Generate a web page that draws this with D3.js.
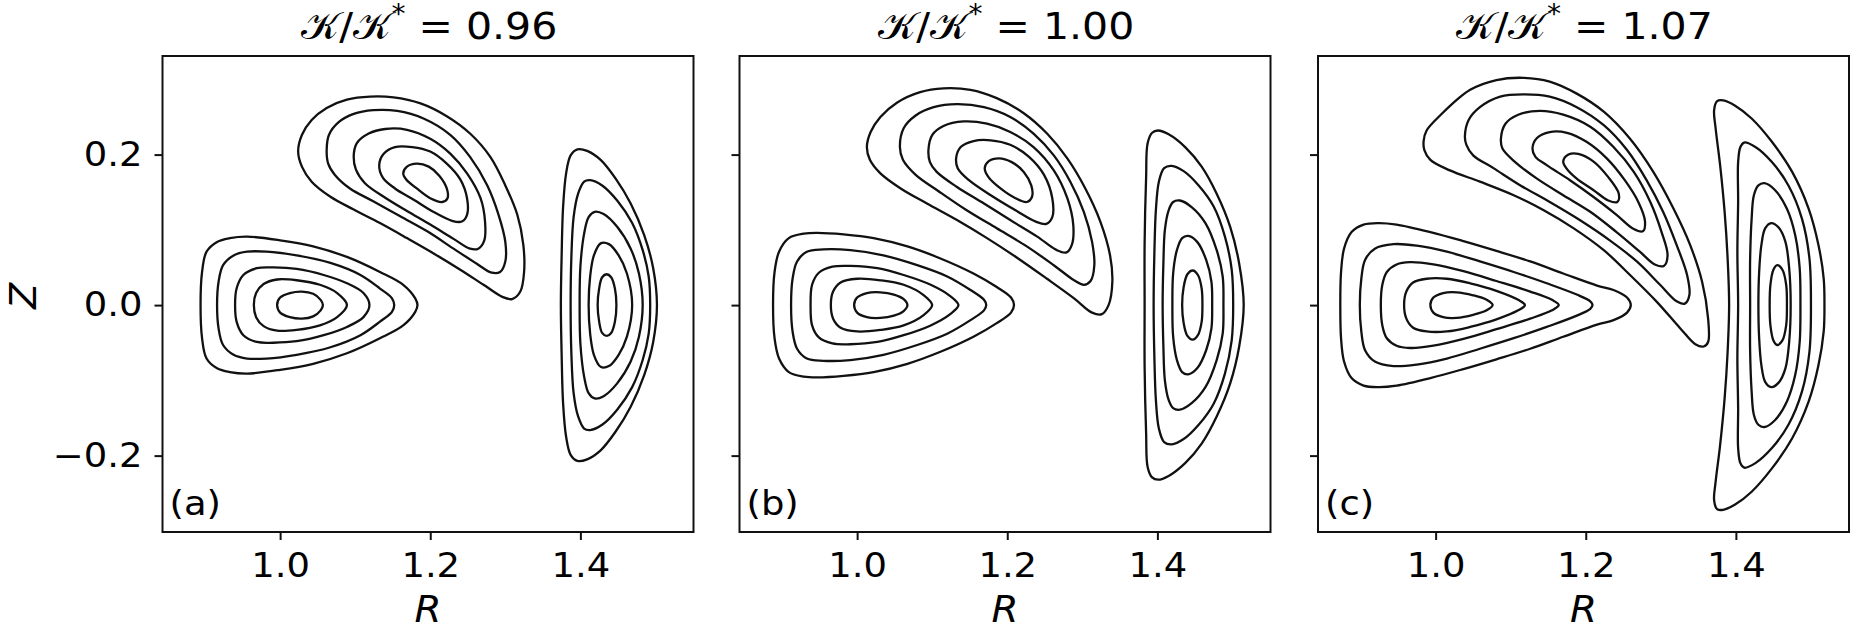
<!DOCTYPE html>
<html>
<head>
<meta charset="utf-8">
<script src="https://cdn.jsdelivr.net/npm/d3@7"></script>
<style>
  body { margin: 0; background: #fff; }
  text { font-family: "DejaVu Sans", sans-serif; fill: #000; }
</style>
</head>
<body>
<svg id="chart"></svg>
<script>
// ---- values ----
var ratios = ["0.96", "1.00", "1.07"];
var tags = ["(a)", "(b)", "(c)"];
var xTicks = [1.0, 1.2, 1.4];
var yTicks = [-0.2, 0.0, 0.2];
var xDomain = [0.8433, 1.5507];
var yDomain = [-0.3015, 0.331];

// each island: 5 nested closed curves, points as [R, Z]
var aLeft = [
  [[.894,0],[.896,.044],[.902,.071],[.916,.084],[.933,.089],[.956,.091],[1.0,.086],[1.044,.078],[1.089,.064],[1.133,.044],[1.164,.027],[1.18,.009],[1.183,0],[1.18,-.009],[1.164,-.027],[1.133,-.044],[1.089,-.064],[1.044,-.078],[1.0,-.086],[.956,-.091],[.933,-.089],[.916,-.084],[.902,-.071],[.896,-.044]],
  [[.916,0],[.918,.031],[.924,.053],[.938,.066],[.956,.071],[.982,.071],[1.022,.066],[1.067,.056],[1.107,.040],[1.133,.022],[1.149,.009],[1.152,0],[1.149,-.009],[1.133,-.022],[1.107,-.040],[1.067,-.056],[1.022,-.066],[.982,-.071],[.956,-.071],[.938,-.066],[.924,-.053],[.918,-.031]],
  [[.940,0],[.942,.022],[.951,.040],[.969,.049],[.991,.050],[1.022,.048],[1.058,.040],[1.089,.029],[1.111,.016],[1.119,0],[1.111,-.016],[1.089,-.029],[1.058,-.040],[1.022,-.048],[.991,-.050],[.969,-.049],[.951,-.040],[.942,-.022]],
  [[.965,0],[.968,.016],[.978,.028],[.996,.034],[1.022,.033],[1.053,.027],[1.076,.016],[1.089,0],[1.076,-.016],[1.053,-.027],[1.022,-.033],[.996,-.034],[.978,-.028],[.968,-.016]],
  [[.996,0],[1.0,.010],[1.013,.016],[1.029,.018],[1.044,.015],[1.054,.007],[1.057,0],[1.054,-.007],[1.044,-.015],[1.029,-.018],[1.013,-.016],[1.0,-.010]]
];
var aMid = [
  [[1.024,.204],[1.029,.226],[1.042,.246],[1.062,.262],[1.089,.273],[1.12,.277],[1.151,.276],[1.187,.268],[1.222,.251],[1.253,.228],[1.28,.197],[1.3,.159],[1.316,.120],[1.324,.080],[1.325,.044],[1.32,.018],[1.309,.008],[1.296,.011],[1.271,.027],[1.24,.047],[1.204,.069],[1.169,.089],[1.133,.109],[1.098,.127],[1.067,.144],[1.042,.164],[1.029,.184]],
  [[1.062,.206],[1.065,.226],[1.078,.243],[1.098,.254],[1.124,.259],[1.156,.258],[1.191,.248],[1.227,.226],[1.253,.197],[1.276,.159],[1.291,.120],[1.3,.084],[1.3,.058],[1.293,.044],[1.282,.043],[1.262,.055],[1.231,.075],[1.196,.098],[1.16,.118],[1.124,.138],[1.093,.155],[1.073,.173],[1.064,.188]],
  [[1.098,.197],[1.102,.215],[1.118,.228],[1.14,.234],[1.169,.233],[1.2,.221],[1.227,.201],[1.249,.175],[1.267,.142],[1.273,.111],[1.272,.086],[1.264,.075],[1.253,.075],[1.231,.088],[1.2,.107],[1.169,.125],[1.138,.144],[1.113,.162],[1.101,.180]],
  [[1.132,.186],[1.138,.201],[1.153,.210],[1.176,.210],[1.2,.204],[1.222,.188],[1.24,.167],[1.249,.142],[1.249,.120],[1.242,.111],[1.229,.112],[1.204,.124],[1.178,.140],[1.153,.155],[1.137,.169]],
  [[1.164,.175],[1.169,.184],[1.182,.188],[1.198,.184],[1.212,.172],[1.222,.155],[1.223,.142],[1.216,.137],[1.2,.142],[1.182,.155],[1.168,.167]]
];
var aRight = [
  [[1.374,0],[1.375,.064],[1.377,.131],[1.381,.175],[1.387,.199],[1.396,.207],[1.409,.205],[1.427,.193],[1.447,.168],[1.467,.135],[1.485,.093],[1.497,.049],[1.502,0],[1.497,-.049],[1.485,-.093],[1.467,-.135],[1.447,-.168],[1.427,-.193],[1.409,-.205],[1.396,-.207],[1.387,-.199],[1.381,-.175],[1.377,-.131],[1.375,-.064]],
  [[1.387,0],[1.388,.064],[1.391,.117],[1.397,.148],[1.405,.164],[1.413,.166],[1.429,.159],[1.449,.139],[1.469,.109],[1.483,.073],[1.491,.038],[1.493,0],[1.491,-.038],[1.483,-.073],[1.469,-.109],[1.449,-.139],[1.429,-.159],[1.413,-.166],[1.405,-.164],[1.397,-.148],[1.391,-.117],[1.388,-.064]],
  [[1.399,0],[1.400,.051],[1.405,.095],[1.411,.117],[1.419,.124],[1.431,.121],[1.449,.104],[1.467,.075],[1.478,.042],[1.483,0],[1.478,-.042],[1.467,-.075],[1.449,-.104],[1.431,-.121],[1.419,-.124],[1.411,-.117],[1.405,-.095],[1.400,-.051]],
  [[1.411,0],[1.413,.038],[1.418,.066],[1.427,.082],[1.438,.081],[1.451,.066],[1.462,.042],[1.469,0],[1.462,-.042],[1.451,-.066],[1.438,-.081],[1.427,-.082],[1.418,-.066],[1.413,-.038]],
  [[1.423,0],[1.425,.022],[1.429,.037],[1.435,.041],[1.441,.037],[1.446,.022],[1.448,0],[1.446,-.022],[1.441,-.037],[1.435,-.041],[1.429,-.037],[1.425,-.022]]
];

var bLeft = [
  [[.888,0],[.890,.044],[.896,.071],[.909,.089],[.929,.095],[.947,.096],[.982,.094],[1.022,.089],[1.067,.078],[1.111,.062],[1.155,.042],[1.186,.024],[1.205,.010],[1.209,0],[1.205,-.010],[1.186,-.024],[1.155,-.042],[1.111,-.062],[1.067,-.078],[1.022,-.089],[.982,-.094],[.947,-.096],[.929,-.095],[.909,-.089],[.896,-.071],[.890,-.044]],
  [[.912,0],[.914,.035],[.920,.058],[.933,.071],[.955,.074],[.991,.073],[1.035,.066],[1.080,.053],[1.120,.038],[1.151,.020],[1.169,.007],[1.172,0],[1.169,-.007],[1.151,-.020],[1.120,-.038],[1.080,-.053],[1.035,-.066],[.991,-.073],[.955,-.074],[.933,-.071],[.920,-.058],[.914,-.035]],
  [[.938,0],[.940,.027],[.949,.043],[.967,.051],[.991,.052],[1.027,.049],[1.062,.040],[1.098,.027],[1.124,.012],[1.135,0],[1.124,-.012],[1.098,-.027],[1.062,-.040],[1.027,-.049],[.991,-.052],[.967,-.051],[.949,-.043],[.940,-.027]],
  [[.965,0],[.968,.018],[.978,.030],[1.0,.035],[1.031,.033],[1.062,.027],[1.089,.013],[1.1,0],[1.089,-.013],[1.062,-.027],[1.031,-.033],[1.0,-.035],[.978,-.030],[.968,-.018]],
  [[.996,0],[1.0,.010],[1.013,.016],[1.031,.017],[1.049,.014],[1.062,.008],[1.067,0],[1.062,-.008],[1.049,-.014],[1.031,-.017],[1.013,-.016],[1.0,-.010]]
];
var bMid = [
  [[1.013,.210],[1.018,.230],[1.031,.250],[1.053,.269],[1.084,.283],[1.115,.288],[1.151,.286],[1.186,.275],[1.222,.255],[1.253,.228],[1.280,.195],[1.304,.155],[1.324,.111],[1.337,.066],[1.340,.031],[1.335,0],[1.326,-.012],[1.313,-.010],[1.289,.009],[1.253,.035],[1.213,.063],[1.173,.089],[1.133,.113],[1.093,.135],[1.058,.155],[1.031,.175],[1.017,.193]],
  [[1.057,.210],[1.062,.235],[1.078,.252],[1.102,.263],[1.133,.267],[1.169,.263],[1.204,.250],[1.235,.228],[1.262,.199],[1.284,.164],[1.302,.124],[1.313,.084],[1.316,.053],[1.311,.032],[1.302,.027],[1.289,.033],[1.262,.053],[1.226,.078],[1.186,.102],[1.146,.126],[1.109,.151],[1.078,.173],[1.061,.193]],
  [[1.095,.206],[1.100,.226],[1.115,.238],[1.142,.244],[1.173,.241],[1.204,.230],[1.235,.210],[1.262,.179],[1.280,.142],[1.288,.106],[1.286,.080],[1.279,.070],[1.266,.073],[1.240,.091],[1.204,.113],[1.169,.135],[1.133,.157],[1.106,.177],[1.097,.190]],
  [[1.132,.196],[1.138,.210],[1.155,.218],[1.178,.219],[1.204,.213],[1.229,.197],[1.249,.173],[1.260,.142],[1.260,.117],[1.252,.108],[1.238,.111],[1.211,.126],[1.178,.146],[1.149,.166],[1.134,.182]],
  [[1.170,.182],[1.175,.191],[1.189,.195],[1.206,.190],[1.222,.177],[1.232,.159],[1.233,.144],[1.226,.137],[1.211,.142],[1.191,.155],[1.175,.170]]
];
var bRight = [
  [[1.383,0],[1.383,.082],[1.385,.170],[1.387,.215],[1.393,.229],[1.401,.232],[1.415,.227],[1.437,.210],[1.459,.184],[1.479,.148],[1.497,.104],[1.509,.055],[1.515,0],[1.509,-.055],[1.497,-.104],[1.479,-.148],[1.459,-.184],[1.437,-.210],[1.415,-.227],[1.401,-.232],[1.393,-.229],[1.387,-.215],[1.385,-.170],[1.383,-.082]],
  [[1.395,0],[1.396,.069],[1.398,.126],[1.402,.164],[1.409,.182],[1.419,.185],[1.435,.178],[1.455,.159],[1.475,.131],[1.490,.091],[1.499,.047],[1.501,0],[1.499,-.047],[1.490,-.091],[1.475,-.131],[1.455,-.159],[1.435,-.178],[1.419,-.185],[1.409,-.182],[1.402,-.164],[1.398,-.126],[1.396,-.069]],
  [[1.407,0],[1.408,.055],[1.410,.100],[1.415,.126],[1.421,.137],[1.430,.139],[1.446,.130],[1.464,.109],[1.479,.073],[1.487,.038],[1.488,0],[1.487,-.038],[1.479,-.073],[1.464,-.109],[1.446,-.130],[1.430,-.139],[1.421,-.137],[1.415,-.126],[1.410,-.100],[1.408,-.055]],
  [[1.420,0],[1.421,.042],[1.426,.073],[1.433,.089],[1.441,.092],[1.453,.084],[1.465,.060],[1.472,.031],[1.473,0],[1.472,-.031],[1.465,-.060],[1.453,-.084],[1.441,-.092],[1.433,-.089],[1.426,-.073],[1.421,-.042]],
  [[1.433,0],[1.435,.024],[1.440,.041],[1.447,.046],[1.454,.040],[1.459,.022],[1.460,0],[1.459,-.022],[1.454,-.040],[1.447,-.046],[1.440,-.041],[1.435,-.024]]
];

var cLeft = [
  [[.873,0],[.874,.044],[.878,.075],[.888,.097],[.904,.107],[.924,.109],[.948,.107],[.993,.097],[1.037,.085],[1.081,.072],[1.126,.058],[1.170,.042],[1.215,.026],[1.237,.020],[1.255,.010],[1.260,0],[1.255,-.010],[1.237,-.020],[1.215,-.026],[1.170,-.042],[1.126,-.058],[1.081,-.072],[1.037,-.085],[.993,-.097],[.948,-.107],[.924,-.109],[.904,-.107],[.888,-.097],[.878,-.075],[.874,-.044]],
  [[.899,0],[.901,.035],[.906,.060],[.919,.075],[.944,.081],[.975,.079],[1.015,.071],[1.059,.058],[1.104,.044],[1.148,.029],[1.188,.014],[1.206,.005],[1.209,0],[1.206,-.005],[1.188,-.014],[1.148,-.029],[1.104,-.044],[1.059,-.058],[1.015,-.071],[.975,-.079],[.944,-.081],[.919,-.075],[.906,-.060],[.901,-.035]],
  [[.927,0],[.929,.027],[.935,.044],[.948,.054],[.966,.057],[.997,.054],[1.037,.045],[1.081,.032],[1.126,.018],[1.155,.007],[1.164,0],[1.155,-.007],[1.126,-.018],[1.081,-.032],[1.037,-.045],[.997,-.054],[.966,-.057],[.948,-.054],[.935,-.044],[.929,-.027]],
  [[.958,0],[.961,.018],[.970,.030],[.988,.035],[1.015,.035],[1.046,.029],[1.081,.019],[1.110,.007],[1.119,0],[1.110,-.007],[1.081,-.019],[1.046,-.029],[1.015,-.035],[.988,-.035],[.970,-.030],[.961,-.018]],
  [[.993,0],[.997,.010],[1.010,.016],[1.028,.017],[1.050,.013],[1.068,.007],[1.076,0],[1.068,-.007],[1.050,-.013],[1.028,-.017],[1.010,-.016],[.997,-.010]]
];
var cMid = [
  [[.984,.218],[.988,.232],[1.006,.252],[1.046,.286],[1.081,.299],[1.117,.302],[1.152,.297],[1.188,.281],[1.224,.257],[1.259,.221],[1.290,.177],[1.317,.128],[1.339,.080],[1.355,.031],[1.363,-.018],[1.363,-.049],[1.357,-.055],[1.346,-.052],[1.326,-.031],[1.295,.004],[1.259,.040],[1.224,.073],[1.184,.102],[1.144,.126],[1.104,.146],[1.059,.164],[1.019,.179],[.993,.193],[.985,.206]],
  [[1.039,.224],[1.044,.246],[1.059,.263],[1.086,.277],[1.117,.280],[1.152,.277],[1.188,.263],[1.224,.239],[1.255,.206],[1.281,.166],[1.303,.124],[1.321,.080],[1.335,.040],[1.338,.013],[1.332,.002],[1.321,.005],[1.299,.027],[1.268,.058],[1.232,.086],[1.192,.113],[1.152,.137],[1.113,.159],[1.077,.182],[1.050,.199],[1.041,.213]],
  [[1.087,.221],[1.093,.241],[1.110,.253],[1.139,.258],[1.170,.253],[1.206,.237],[1.237,.210],[1.264,.177],[1.286,.137],[1.301,.097],[1.309,.066],[1.304,.052],[1.292,.054],[1.272,.071],[1.241,.097],[1.206,.124],[1.170,.146],[1.135,.168],[1.106,.190],[1.089,.208]],
  [[1.129,.208],[1.135,.222],[1.152,.230],[1.175,.229],[1.201,.217],[1.228,.195],[1.252,.166],[1.270,.137],[1.279,.111],[1.276,.098],[1.264,.101],[1.241,.120],[1.210,.144],[1.179,.166],[1.148,.186],[1.133,.197]],
  [[1.170,.191],[1.177,.200],[1.190,.201],[1.210,.191],[1.230,.170],[1.244,.148],[1.242,.137],[1.230,.139],[1.210,.153],[1.188,.168],[1.174,.182]]
];
var cRight = [
  [[1.391,0],[1.389,.062],[1.385,.124],[1.379,.186],[1.373,.235],[1.371,.259],[1.375,.271],[1.383,.272],[1.399,.265],[1.421,.248],[1.448,.217],[1.475,.177],[1.497,.128],[1.510,.080],[1.517,.035],[1.518,0],[1.517,-.035],[1.510,-.080],[1.497,-.128],[1.475,-.177],[1.448,-.217],[1.421,-.248],[1.399,-.265],[1.383,-.272],[1.375,-.271],[1.371,-.259],[1.373,-.235],[1.379,-.186],[1.385,-.124],[1.389,-.062]],
  [[1.403,0],[1.402,.071],[1.403,.137],[1.403,.190],[1.406,.210],[1.411,.216],[1.426,.210],[1.448,.190],[1.470,.159],[1.488,.115],[1.498,.062],[1.500,0],[1.498,-.062],[1.488,-.115],[1.470,-.159],[1.448,-.190],[1.426,-.210],[1.411,-.216],[1.406,-.210],[1.403,-.190],[1.403,-.137],[1.402,-.071]],
  [[1.419,0],[1.419,.062],[1.421,.115],[1.424,.146],[1.430,.159],[1.438,.162],[1.452,.153],[1.468,.128],[1.479,.093],[1.485,.049],[1.486,0],[1.485,-.049],[1.479,-.093],[1.468,-.128],[1.452,-.153],[1.438,-.162],[1.430,-.159],[1.424,-.146],[1.421,-.115],[1.419,-.062]],
  [[1.430,0],[1.431,.044],[1.434,.080],[1.439,.102],[1.447,.109],[1.457,.103],[1.466,.084],[1.471,.049],[1.473,0],[1.471,-.049],[1.466,-.084],[1.457,-.103],[1.447,-.109],[1.439,-.102],[1.434,-.080],[1.431,-.044]],
  [[1.445,0],[1.446,.027],[1.450,.047],[1.455,.053],[1.462,.047],[1.467,.027],[1.468,0],[1.467,-.027],[1.462,-.047],[1.455,-.053],[1.450,-.047],[1.446,-.027]]
];

var panels = [[aLeft, aMid, aRight], [bLeft, bMid, bRight], [cLeft, cMid, cRight]];

// ---- layout ----
var W = 1851, H = 630;
var lefts = [162.5, 739.5, 1318];
var pw = 531, ph = 476, mTop = 56;
var sx = 1.12;   // the source figure is a little wider than tall in its lettering

var svg = d3.select("#chart").attr("width", W).attr("height", H);
svg.append("rect").attr("width", W).attr("height", H).attr("fill", "#fff");

var fmt = d3.format(".1f");

panels.forEach(function(islands, i) {
  var g = svg.append("g")
    .attr("transform", "translate(" + lefts[i] + "," + mTop + ")");

  var x = d3.scaleLinear().domain(xDomain).range([0, pw]);
  var y = d3.scaleLinear().domain(yDomain).range([ph, 0]);

  var line = d3.line()
    .x(function(d) { return x(d[0]); })
    .y(function(d) { return y(d[1]); })
    .curve(d3.curveCatmullRomClosed.alpha(0.5));

  // contour loops
  islands.forEach(function(isl) {
    g.selectAll(null)
      .data(isl)
      .enter().append("path")
      .attr("d", line)
      .attr("fill", "none")
      .attr("stroke", "#111")
      .attr("stroke-width", 2.3)
      .attr("stroke-linejoin", "round");
  });

  // axes
  var xa = g.append("g")
    .attr("transform", "translate(0," + ph + ")")
    .call(d3.axisBottom(x).tickValues(xTicks).tickSize(8).tickPadding(14).tickFormat(fmt));
  var ya = g.append("g")
    .call(d3.axisLeft(y).tickValues(yTicks).tickSize(8).tickPadding(12)
      .tickFormat(i == 0 ? fmt : function() { return ""; }));
  [xa, ya].forEach(function(a) {
    a.select(".domain").remove();
    a.selectAll(".tick line").attr("stroke", "#111").attr("stroke-width", 2);
    a.selectAll(".tick text")
      .style("font-family", "'DejaVu Sans', sans-serif")
      .style("font-size", "33px")
      .attr("fill", "#111")
      .attr("transform", "scale(" + sx + ",1)");
  });
  ya.selectAll(".tick text").attr("x", -20 / sx);

  // frame
  g.append("rect")
    .attr("width", pw).attr("height", ph)
    .attr("fill", "none")
    .attr("stroke", "#111")
    .attr("stroke-width", 2);

  // title
  var t = g.append("g")
    .attr("transform", "translate(" + (pw / 2 + 1) + ",-17) scale(1.08,1)")
    .append("text")
    .attr("text-anchor", "middle")
    .style("font-size", "38px");
  t.append("tspan").text("\u{1D4A6}/\u{1D4A6}");
  t.append("tspan").attr("dy", -16).style("font-size", "26px").text("*");
  t.append("tspan").attr("dy", 16).text(" = " + ratios[i]);

  // panel tag
  g.append("g")
    .attr("transform", "translate(7," + (ph - 17) + ") scale(" + sx + ",1)")
    .append("text")
    .style("font-size", "33px")
    .text(tags[i]);

  // x label
  g.append("g")
    .attr("transform", "translate(" + pw / 2 + "," + (H - mTop - 8) + ") scale(1.05,1)")
    .append("text")
    .attr("text-anchor", "middle")
    .style("font-size", "37px")
    .style("font-style", "italic")
    .text("R");
});

// y label
svg.append("text")
  .attr("transform", "translate(36," + (mTop + ph / 2 + 2) + ") rotate(-90)")
  .attr("text-anchor", "middle")
  .style("font-size", "38px")
  .style("font-style", "italic")
  .text("Z");
</script>
</body>
</html>
